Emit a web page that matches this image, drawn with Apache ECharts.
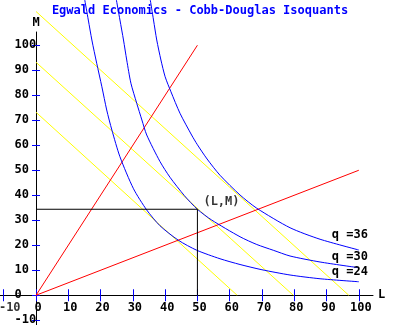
<!DOCTYPE html>
<html>
<head>
<meta charset="utf-8">
<script src="https://cdn.jsdelivr.net/npm/echarts@6/dist/echarts.min.js"></script>
<style>html,body{margin:0;padding:0;background:#fff}#c{width:400px;height:325px}</style>
</head>
<body>
<div id="c"></div>
<script>
const titleText = 'Egwald Economics - Cobb-Douglas Isoquants';
const xTicks = [-10, 0, 10, 20, 30, 40, 50, 60, 70, 80, 90, 100];
const yTicks = [-10, 0, 10, 20, 30, 40, 50, 60, 70, 80, 90, 100];
const xName = 'L';
const yName = 'M';

// isoquants (L, M)
const q24L = [15.1, 16.2, 17.3, 18.8, 20.4, 21.9, 23.5, 26.0, 30.2, 34.3, 38.4, 44.1, 49.8, 57.0, 63.2, 70.0, 78.7, 88.0, 100];
const q24M = [118.1, 110.1, 102.1, 92.8, 83.4, 74.1, 66.1, 55.4, 42.6, 34.1, 27.8, 22.0, 18.0, 14.6, 12.3, 10.2, 8.1, 6.6, 5.4];
const q30L = [24.9, 26.0, 27.1, 28.1, 29.4, 31.2, 32.8, 34.3, 38.4, 41.5, 46.0, 50.0, 54.4, 63.2, 68.4, 73.5, 78.7, 88.0, 100];
const q30M = [118.1, 110.1, 102.1, 94.1, 84.8, 76.8, 70.1, 64.1, 53.5, 47.2, 39.8, 34.4, 30.1, 23.4, 20.3, 18.0, 15.7, 13.3, 11.0];
const q36L = [35.4, 36.4, 37.4, 38.7, 40.0, 41.8, 44.6, 48.2, 50.0, 53.0, 57.0, 63.2, 68.4, 78.7, 88.0, 100];
const q36M = [118.1, 110.1, 102.1, 94.1, 87.4, 81.4, 72.8, 64.1, 60.2, 54.5, 48.0, 40.1, 34.8, 27.0, 22.4, 18.1];
const isoNames = ['q =24', 'q =30', 'q =36'];

// isocost lines
const cost1L = [0, 62.3], cost1M = [73.2, 0];
const cost2L = [0, 79.7], cost2M = [93.2, 0];
const cost3L = [0, 96.9], cost3M = [113.5, 0];

// rays
const ray1L = [0, 50], ray1M = [0, 100];
const ray2L = [0, 100], ray2M = [0, 50];

// chosen point
const pointL = 50, pointM = 34.4;
const pointLabel = '(L,M)';

const zip = (a, b) => a.map((v, i) => [v, b[i]]);
const FONT = '"DejaVu Sans Mono", monospace';
const BLUE = '#0000ff';
const xAxisLabelTicks = xTicks.slice(1);
const xEdgeTick = xTicks[0];

const baseX = {type: 'value', min: -11.16, max: 104.4, splitLine: {show: false}};
const baseY = {type: 'value', min: -11.9, max: 105.3, splitLine: {show: false}};

const lineSeries = (name, data, color, extra) => Object.assign({
  name, type: 'line', data, showSymbol: false, symbol: 'none', clip: false,
  lineStyle: {color, width: 1}, silent: true, animation: false
}, extra || {});

const endLabel = (text, dy) => ({
  show: true, formatter: text, distance: 0, offset: [-27, dy], align: 'left',
  fontFamily: FONT, fontWeight: 'bold', fontSize: 12, color: '#000'
});

const chart = echarts.init(document.getElementById('c'), null, {renderer: 'canvas'});
chart.setOption({
  animation: false,
  backgroundColor: '#fff',
  title: {
    text: titleText, left: 'center', top: 5, padding: 0,
    textStyle: {fontFamily: FONT, fontWeight: 'bold', fontSize: 12, color: BLUE}
  },
  grid: {left: 0, right: 27, top: 32, bottom: 0, containLabel: false, outerBoundsMode: 'none'},
  xAxis: [
    Object.assign({}, baseX, {
      position: 'bottom',
      name: xName, nameLocation: 'end', nameGap: 5,
      nameTextStyle: {fontFamily: FONT, fontWeight: 'bold', fontSize: 12, color: '#000', verticalAlign: 'middle'},
      axisLine: {onZero: true, onZeroAxisIndex: 0, lineStyle: {color: '#000', width: 1}},
      axisTick: {show: true, length: 6, customValues: xTicks, lineStyle: {color: BLUE, width: 1}},
      axisLabel: {
        show: true, customValues: xAxisLabelTicks, margin: -23.2, hideOverlap: false,
        fontFamily: FONT, fontWeight: 'bold', fontSize: 12, color: '#000', lineHeight: 12,
        padding: [0, 0, 0, 4]
      }
    }),
    Object.assign({}, baseX, {
      position: 'top',
      axisLine: {show: false, onZero: true, onZeroAxisIndex: 0},
      axisTick: {show: true, length: 6, customValues: xTicks, lineStyle: {color: BLUE, width: 1}},
      axisLabel: {show: false}
    })
  ],
  yAxis: [
    Object.assign({}, baseY, {
      position: 'left',
      name: yName, nameLocation: 'end', nameGap: 3,
      nameTextStyle: {fontFamily: FONT, fontWeight: 'bold', fontSize: 12, color: '#000', align: 'center'},
      axisLine: {onZero: true, onZeroAxisIndex: 0, lineStyle: {color: '#000', width: 1}},
      axisTick: {show: true, length: 4, customValues: yTicks, lineStyle: {color: BLUE, width: 1}},
      axisLabel: {
        show: true, customValues: yTicks, margin: -14.5, align: 'left', hideOverlap: false,
        fontFamily: FONT, fontWeight: 'bold', fontSize: 12, color: '#000', lineHeight: 9
      }
    }),
    Object.assign({}, baseY, {
      position: 'right',
      axisLine: {show: false, onZero: true, onZeroAxisIndex: 0},
      axisTick: {show: true, length: 4, customValues: yTicks, lineStyle: {color: BLUE, width: 1}},
      axisLabel: {show: false}
    })
  ],
  series: [
    lineSeries('cost1', zip(cost1L, cost1M), '#ffff00'),
    lineSeries('cost2', zip(cost2L, cost2M), '#ffff00'),
    lineSeries('cost3', zip(cost3L, cost3M), '#ffff00'),
    lineSeries('ray1', zip(ray1L, ray1M), '#ff0000'),
    lineSeries('ray2', zip(ray2L, ray2M), '#ff0000'),
    lineSeries('q24', zip(q24L, q24M), BLUE, {smooth: 0.25, endLabel: endLabel(isoNames[0], -9.5)}),
    lineSeries('q30', zip(q30L, q30M), BLUE, {smooth: 0.25, endLabel: endLabel(isoNames[1], -11)}),
    lineSeries('q36', zip(q36L, q36M), BLUE, {smooth: 0.25, endLabel: endLabel(isoNames[2], -15)}),
    lineSeries('point', [[0, pointM], [pointL, pointM], [pointL, 0]], '#000'),
    {
      type: 'scatter', data: [[pointL, pointM]], symbolSize: 0, silent: true,
      label: {show: true, formatter: pointLabel, position: 'right', distance: 6, offset: [0, -7],
        fontFamily: FONT, fontWeight: 'bold', fontSize: 12, color: '#000'}
    },
    {
      type: 'scatter', data: [[xEdgeTick, 0]], symbolSize: 0, silent: true,
      label: {show: true, formatter: String(xEdgeTick), position: 'inside', offset: [6, 13],
        fontFamily: FONT, fontWeight: 'bold', fontSize: 12, color: '#000'}
    }
  ]
});
</script>
</body>
</html>
